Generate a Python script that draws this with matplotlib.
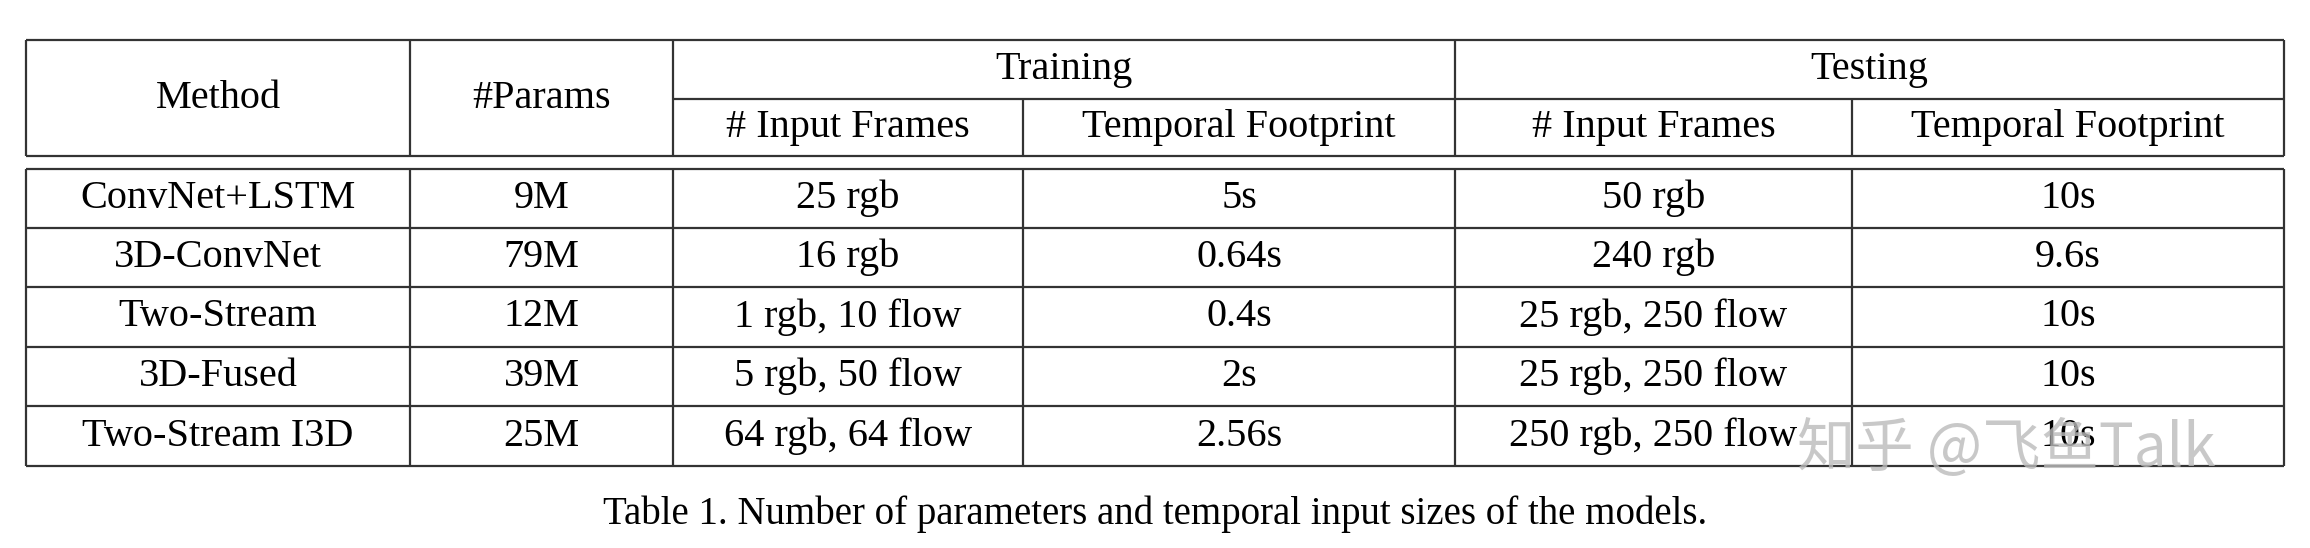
import matplotlib.pyplot as plt

methods = ["ConvNet+LSTM", "3D-ConvNet", "Two-Stream", "3D-Fused", "Two-Stream I3D"]
params = ["9M", "79M", "12M", "39M", "25M"]
train_frames = ["25 rgb", "16 rgb", "1 rgb, 10 flow", "5 rgb, 50 flow", "64 rgb, 64 flow"]
train_foot = ["5s", "0.64s", "0.4s", "2s", "2.56s"]
test_frames = ["50 rgb", "240 rgb", "25 rgb, 250 flow", "25 rgb, 250 flow", "250 rgb, 250 flow"]
test_foot = ["10s", "9.6s", "10s", "10s", "10s"]
caption = "Table 1. Number of parameters and temporal input sizes of the models."

W, H = 2310, 548
fig = plt.figure(figsize=(W / 100, H / 100), dpi=100)
ax = fig.add_axes([0, 0, 1, 1])
ax.set_xlim(0, W)
ax.set_ylim(H, 0)
ax.axis('off')

# grid geometry in pixels
xs = [26, 410, 673, 1023, 1455, 1852, 2284]
y_top, y_mid, y_hb = 40, 99, 156
rows = [169, 228, 287, 347, 406, 466]
lc = '#333333'
lw = 1.6
fs = 29
font = 'Liberation Serif'

def hline(y, x0, x1):
    ax.plot([x0, x1], [y, y], color=lc, lw=lw, solid_capstyle='butt')

def vline(x, y0, y1):
    ax.plot([x, x], [y0, y1], color=lc, lw=lw, solid_capstyle='butt')

def txt(x, y, s):
    ax.text(x, y, s, ha='center', va='center', fontsize=fs, family=font)

# header
hline(y_top, xs[0], xs[-1])
hline(y_mid, xs[2], xs[-1])
hline(y_hb, xs[0], xs[-1])
for x in [xs[0], xs[1], xs[2], xs[4], xs[6]]:
    vline(x, y_top, y_hb)
for x in [xs[3], xs[5]]:
    vline(x, y_mid, y_hb)
txt((xs[0] + xs[1]) / 2, (y_top + y_hb) / 2, "Method")
txt((xs[1] + xs[2]) / 2, (y_top + y_hb) / 2, "#Params")
txt((xs[2] + xs[4]) / 2, (y_top + y_mid) / 2, "Training")
txt((xs[4] + xs[6]) / 2, (y_top + y_mid) / 2, "Testing")
sub = ["# Input Frames", "Temporal Footprint", "# Input Frames", "Temporal Footprint"]
for i, s in enumerate(sub):
    txt((xs[2 + i] + xs[3 + i]) / 2, (y_mid + y_hb) / 2, s)

# body
for y in rows:
    hline(y, xs[0], xs[-1])
for x in xs:
    vline(x, rows[0], rows[-1])
cols = [methods, params, train_frames, train_foot, test_frames, test_foot]
for j, col in enumerate(cols):
    for i, s in enumerate(col):
        txt((xs[j] + xs[j + 1]) / 2, (rows[i] + rows[i + 1]) / 2, s)

ax.text(1155, 514, caption, ha='center', va='center', fontsize=fs - 1, family=font)

# watermark
ax.text(2006, 450, "知乎 @飞鱼Talk", ha='center', va='center', fontsize=42,
        family=['Noto Sans CJK SC', 'DejaVu Sans'], color='#bbbbbb', alpha=0.8)

fig.savefig('out.png', dpi=100)
